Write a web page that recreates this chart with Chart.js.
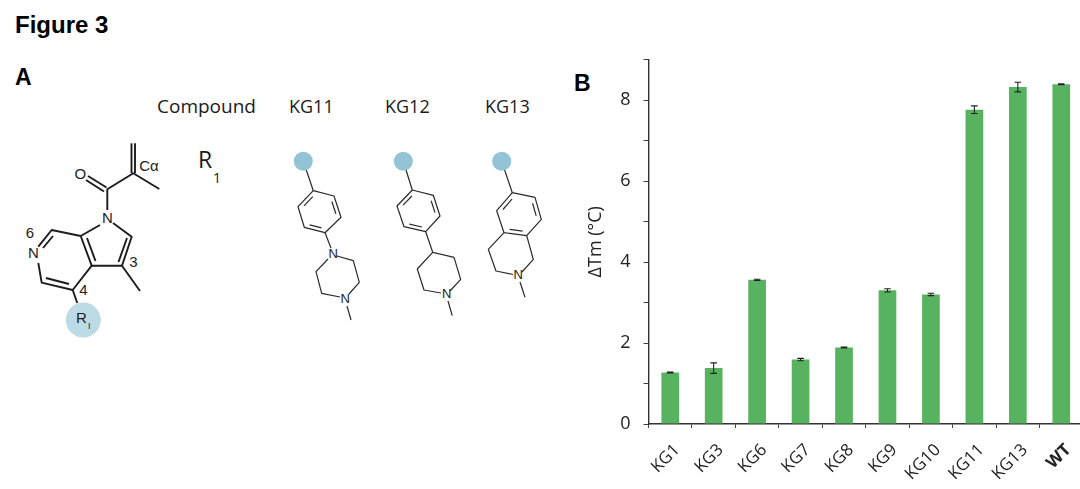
<!DOCTYPE html>
<html>
<head>
<meta charset="utf-8">
<script src="https://cdn.jsdelivr.net/npm/chart.js@4"></script>
<style>
html,body{margin:0;padding:0;width:1080px;height:489px;overflow:hidden;background:#fff}
#chartBox{position:absolute;left:560px;top:50px;width:523px;height:439px}
#art{position:absolute;left:0;top:0}
text{fill:#1a1a1a}
.h{font:bold 24px "Liberation Sans",Arial,sans-serif;fill:#000}
.h2{font:bold 23px "Liberation Sans",Arial,sans-serif;fill:#000}
.l{font:18px "Open Sans",sans-serif}
.c{font:19px "Open Sans",sans-serif}
.a{font:15px "Liberation Sans",Arial,sans-serif;fill:#222}
.n{font:13px "Liberation Sans",Arial,sans-serif;fill:#222}
</style>
</head>
<body>
<svg id="art" width="1080" height="489" xmlns="http://www.w3.org/2000/svg"></svg>
<div id="chartBox"><canvas id="c" width="523" height="439" style="width:523px;height:439px"></canvas></div>
<script>
const categories = ['KG1','KG3','KG6','KG7','KG8','KG9','KG10','KG11','KG13','WT'];
const deltaTm   = [1.27,1.38,3.56,1.59,1.89,3.30,3.20,7.76,8.32,8.39];
const errors    = [0.01,0.13,0.015,0.03,0.01,0.04,0.03,0.095,0.12,0.01];
const yTickLabels = ['0','2','4','6','8'];

const errorBars = {
  id:'errorBars',
  afterDatasetsDraw(chart){
    const {ctx,scales:{x,y}} = chart;
    ctx.save();
    ctx.strokeStyle='#222';ctx.lineWidth=1.1;
    deltaTm.forEach((v,i)=>{
      const px=x.getPixelForValue(i),t=y.getPixelForValue(v+errors[i]),b=y.getPixelForValue(v-errors[i]);
      ctx.beginPath();
      ctx.moveTo(px,t);ctx.lineTo(px,b);
      ctx.moveTo(px-3.3,t);ctx.lineTo(px+3.3,t);
      ctx.moveTo(px-3.3,b);ctx.lineTo(px+3.3,b);
      ctx.stroke();
    });
    ctx.restore();
  }
};

new Chart(document.getElementById('c'),{
  type:'bar',
  data:{labels:categories,datasets:[{data:deltaTm,backgroundColor:'#58b360',borderWidth:0,categoryPercentage:1,barPercentage:0.407}]},
  plugins:[errorBars],
  options:{
    responsive:false,animation:false,devicePixelRatio:1,
    layout:{padding:{top:9.5,left:0,right:0,bottom:0}},
    plugins:{legend:{display:false},tooltip:{enabled:false}},
    scales:{
      x:{
        afterFit(s){s.height=65;s.paddingLeft=0;s.paddingRight=0;s.paddingTop=0;s.paddingBottom=0},
        grid:{offset:true,drawOnChartArea:false,drawTicks:true,tickLength:4,tickColor:'#444',tickWidth:1},
        border:{color:'#333',width:1.4},
        ticks:{
          autoSkip:false,minRotation:45,maxRotation:45,padding:12,color:'#222',labelOffset:7,
          font:c=>({family:'"Open Sans"',size:17,weight:categories[c.index]==='WT'?'bold':'normal'})
        }
      },
      y:{
        min:0,max:9,
        afterFit(s){s.width=88.5;s.paddingTop=0;s.paddingBottom=0;s.paddingLeft=0;s.paddingRight=0},
        grid:{drawOnChartArea:false,drawTicks:true,tickLength:5,tickColor:'#444',tickWidth:1},
        border:{color:'#333',width:1.4},
        title:{display:true,text:'ΔTm (°C)',color:'#222',font:{family:'"Open Sans"',size:18},padding:{top:25,bottom:0}},
        ticks:{
          stepSize:1,padding:13,color:'#222',font:{family:'"Open Sans"',size:18},
          callback:v=>yTickLabels.includes(String(v))?String(v):''
        }
      }
    }
  }
});

/* Panel A: chemical structures */
const svg=document.getElementById('art'),NS='http://www.w3.org/2000/svg';
function el(n,a,t){const e=document.createElementNS(NS,n);for(const k in a)e.setAttribute(k,a[k]);if(t)e.textContent=t;svg.appendChild(e);return e}
function ln(p,w,col){el('polyline',{points:p.map(q=>q.join(',')).join(' '),fill:'none',stroke:col||'#1c1c1c','stroke-width':w||1.5,'stroke-linejoin':'round'})}
function inner(a,b,c,w,col){
  const k=0.2,s=0.14;
  const m=(p)=>[p[0]+(c[0]-p[0])*k,p[1]+(c[1]-p[1])*k];
  const A=m(a),B=m(b);
  ln([[A[0]+(B[0]-A[0])*s,A[1]+(B[1]-A[1])*s],[B[0]+(A[0]-B[0])*s,B[1]+(A[1]-B[1])*s]],w,col);
}
function tx(x,y,t,c,anchor){el('text',{x,y,class:c,'text-anchor':anchor||'start','dominant-baseline':'middle'},t)}
function dot(x,y,r,f){el('circle',{cx:x,cy:y,r,fill:f})}

tx(15,27,'Figure 3','h');tx(15,79,'A','h2');tx(574,85,'B','h2');
tx(157,108,'Compound','c');tx(289,108,'KG11','l');tx(385,108,'KG12','l');tx(485,108,'KG13','l');
el('text',{x:198,y:168,style:'font:23px "Open Sans",sans-serif'},'R');
el('text',{x:213,y:183,style:'font:14px "Open Sans",sans-serif'},'1');

/* core scaffold */
const W=1.9;
ln([[131.5,143.3],[131.5,173]],W);ln([[135,143.3],[135,173]],W);
ln([[159.3,189],[133.3,173.3],[107.3,189.3],[107.3,210]],W);
ln([[88,176],[106.5,187.5]],W);ln([[86,180],[104,191.5]],W);
ln([[113,223],[131.7,236.7],[122,265.7],[91.7,265.7],[80.7,236],[100,225]],W);
ln([[127,238],[118.5,262]],W);ln([[87,238],[95.5,261]],W);
ln([[122,265.7],[140,291]],W);
ln([[80.7,236],[51.7,230],[38.3,246.7]],W);ln([[53,236],[43,248]],W);
ln([[38.3,263],[41.7,282.7],[72.7,290],[91.7,265.7]],W);ln([[46,278],[69,284]],W);
ln([[72.7,290],[77.3,303]],W);
dot(83.3,320,17.5,'#bddbe7');
tx(80.3,175,'O','a','middle');tx(107.3,219,'N','a','middle');tx(33.3,254,'N','a','middle');
tx(30,234,'6','a','middle');tx(133.3,263,'3','a','middle');tx(83.3,291,'4','a','middle');tx(149,167,'Cα','a','middle');
tx(81.5,319,'R','a','middle');el('text',{x:88,y:329,style:'font:9px "Liberation Sans",sans-serif'},'I');

/* R groups */
const w=1.2,col='#2a2a2a',blue='#93c4d6';
function benzene(r,dbl){const c=[r.reduce((s,p)=>s+p[0],0)/6,r.reduce((s,p)=>s+p[1],0)/6];
  ln([...r,r[0]],w,col);dbl.forEach(i=>inner(r[i],r[(i+1)%6],c,w,col));}
/* KG11 */
ln([[303.3,161.3],[313.3,190.7]],w,col);dot(303.3,161.3,9.5,blue);
benzene([[313.3,190.7],[334,196],[341,217.3],[325,232.7],[304.3,227.3],[298,206.7]],[1,3,5]);
ln([[325,232.7],[331,248]],w,col);
ln([[337,256],[353.3,260.7],[359.3,282.3],[349,294]],w,col);
ln([[340,297],[321.7,293.3],[316,271.7],[328,259]],w,col);
ln([[347,306],[351,320]],w,col);
tx(333.3,255,'N','n','middle');tx(345.3,299.5,'N','n','middle');
/* KG12 */
ln([[403.3,161.3],[412.3,190]],w,col);dot(403.3,161.3,9.5,blue);
benzene([[412.3,190],[433.3,195.3],[440,216],[425.7,231.7],[404,226.7],[397,206]],[1,3,5]);
ln([[425.7,231.7],[432.7,252.3],[454,257.3],[460.7,279.3],[450,291]],w,col);
ln([[441,293],[424,290],[417.3,269],[432.7,252.3]],w,col);
ln([[448,301],[452.3,315.7]],w,col);
tx(446.7,294.5,'N','n','middle');
/* KG13 */
ln([[501.7,161.3],[512.3,192.7]],w,col);dot(501.7,161.3,9.5,blue);
benzene([[512.3,192.7],[535,197.3],[541.3,219.3],[526.7,235.7],[504,232.7],[496.7,210.7]],[1,3,5]);
ln([[504,232.7],[488.3,249.3],[496,271],[513,274.5]],w,col);
ln([[522,272],[533.3,259.3],[526.7,235.7]],w,col);
ln([[520,282],[525,297.3]],w,col);
tx(518.3,276,'N','n','middle');
</script>
</body>
</html>
